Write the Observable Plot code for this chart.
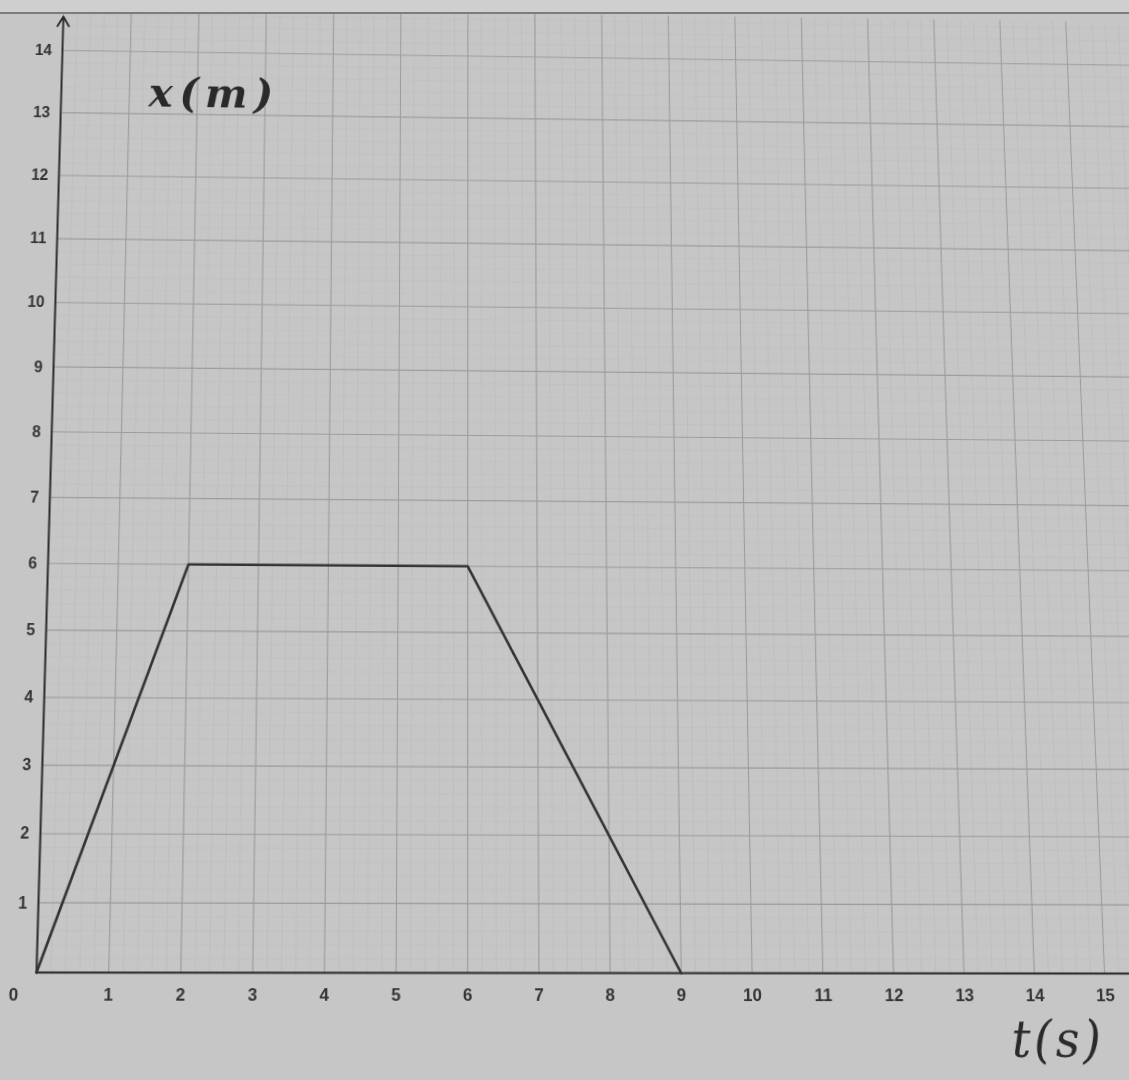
<!DOCTYPE html>
<html><head><meta charset="utf-8">
<script src="https://cdn.jsdelivr.net/npm/d3@7"></script>
<script src="https://cdn.jsdelivr.net/npm/@observablehq/plot@0.6"></script>
<style>
html,body{margin:0;padding:0;background:#c6c6c6;overflow:hidden;width:1129px;height:1080px;}
#wrap{position:absolute;left:0;top:0;width:1129px;height:1080px;overflow:hidden;}
#chart{position:absolute;left:0;top:0;width:1300px;height:1080px;}
#chart svg{position:absolute;left:0;top:0;transform-origin:0 0;max-width:none !important;}
#topbar{position:absolute;left:0;top:0;width:1129px;height:12px;background:#cfcfcf;border-bottom:2px solid #7c7c7c;z-index:2;}
</style></head><body>
<div id="wrap"><div id="chart"></div><div id="topbar"></div></div>
<script>
// Data: position x (m) versus time t (s)
const times = [0, 2, 6, 9];
const positions = [0, 6, 6, 0];
// Tick labels
const xTickLabels = [1, 2, 3, 4, 5, 6, 7, 8, 9, 10, 11, 12, 13, 14, 15];
const yTickLabels = [1, 2, 3, 4, 5, 6, 7, 8, 9, 10, 11, 12, 13, 14];
const originLabel = [0];
const xGridLines = [0, 1, 2, 3, 4, 5, 6, 7, 8, 9, 10, 11, 12, 13, 14, 15, 16];
const yGridLines = [0, 1, 2, 3, 4, 5, 6, 7, 8, 9, 10, 11, 12, 13, 14];
const xMinor = d3.range(0, 16.001, 0.2);
const yMinor = d3.range(0, 14.701, 0.2);
const yAxisLabel = "x(m)";
const xAxisLabel = "t(s)";

const data = times.map((t, i) => ({t, x: positions[i]}));

const W = 1200, H = 1080;
const labelFont = "Liberation Sans, Arial, sans-serif";
const mathFont = "DejaVu Serif, Liberation Serif, serif";

const plot = Plot.plot({
  width: W, height: H,
  marginLeft: 36, marginRight: W - 36 - 16 * 71.2,
  marginTop: 0, marginBottom: 108,
  x: {domain: [0, 16], axis: null},
  y: {domain: [0, 14.7], axis: null},
  style: {background: "transparent", overflow: "visible"},
  marks: [
    Plot.ruleX(xMinor, {stroke: "#b9b9b9", strokeWidth: 0.6}),
    Plot.ruleY(yMinor, {stroke: "#bdbdbd", strokeWidth: 0.6}),
    Plot.ruleX(xGridLines, {stroke: "#9c9c9c", strokeWidth: 1.1}),
    Plot.ruleY(yGridLines, {stroke: "#9c9c9c", strokeWidth: 1.1}),
    Plot.ruleY([0], {stroke: "#2b2b2b", strokeWidth: 2.2}),
    Plot.arrow([0], {x1: 0, y1: 0, x2: 0, y2: 14.55, stroke: "#2b2b2b", strokeWidth: 2, headLength: 9}),
    Plot.line(data, {x: "t", y: "x", stroke: "#333333", strokeWidth: 2.6}),
    Plot.text(xTickLabels, {x: d => d, y: 0, dy: 21, fontSize: 17, fontWeight: "bold", fill: "#353535", fontFamily: labelFont}),
    Plot.text(originLabel, {x: d => d, y: 0, dy: 21, dx: -22, fontSize: 17, fontWeight: "bold", fill: "#353535", fontFamily: labelFont}),
    Plot.text(yTickLabels, {x: 0, y: d => d, dx: -11, textAnchor: "end", fontSize: 16, fontWeight: "bold", fill: "#353535", fontFamily: labelFont}),
    Plot.text([yAxisLabel], {x: 2.25, y: 13.33, text: d => d, fontSize: 42, fontStyle: "italic", fontWeight: "bold", fill: "#2a2a2a", fontFamily: mathFont}),
    Plot.text([xAxisLabel], {x: 14.3, y: 0, dy: 64, text: d => d, fontSize: 48, fontStyle: "italic", fill: "#2a2a2a", fontFamily: mathFont})
  ]
});

plot.style.maxWidth = "none";
plot.style.width = W + "px";
plot.style.height = H + "px";
document.getElementById("chart").appendChild(plot);

// letter spacing for the math-style axis titles
d3.select(plot).selectAll("text").filter(function() { return this.textContent === yAxisLabel; }).style("letter-spacing", "7px");
d3.select(plot).selectAll("text").filter(function() { return this.textContent === xAxisLabel; }).style("letter-spacing", "3px");

// Photo perspective: map the flat chart onto the photographed screen plane
const sx = plot.scale("x").apply, sy = plot.scale("y").apply;
const src = [[sx(0), sy(0)], [sx(15), sy(0)], [sx(0), sy(14)], [sx(15), sy(14)]];
const dst = [[36, 972], [1104, 973], [62, 50], [1067, 64]];

function solve(A, b) {
  const n = b.length;
  const M = A.map((r, i) => r.concat([b[i]]));
  for (let c = 0; c < n; c++) {
    let p = c;
    for (let r = c + 1; r < n; r++) if (Math.abs(M[r][c]) > Math.abs(M[p][c])) p = r;
    [M[c], M[p]] = [M[p], M[c]];
    for (let r = 0; r < n; r++) {
      if (r === c) continue;
      const f = M[r][c] / M[c][c];
      for (let k = c; k <= n; k++) M[r][k] -= f * M[c][k];
    }
  }
  return M.map((r, i) => r[n] / r[i]);
}
function homography(s, d) {
  const A = [], b = [];
  for (let i = 0; i < 4; i++) {
    const [x, y] = s[i], [u, v] = d[i];
    A.push([x, y, 1, 0, 0, 0, -x * u, -y * u]); b.push(u);
    A.push([0, 0, 0, x, y, 1, -x * v, -y * v]); b.push(v);
  }
  const h = solve(A, b);
  return [h[0], h[3], 0, h[6], h[1], h[4], 0, h[7], 0, 0, 1, 0, h[2], h[5], 0, 1];
}
plot.style.transform = "matrix3d(" + homography(src, dst).join(",") + ")";
</script>
</body></html>
